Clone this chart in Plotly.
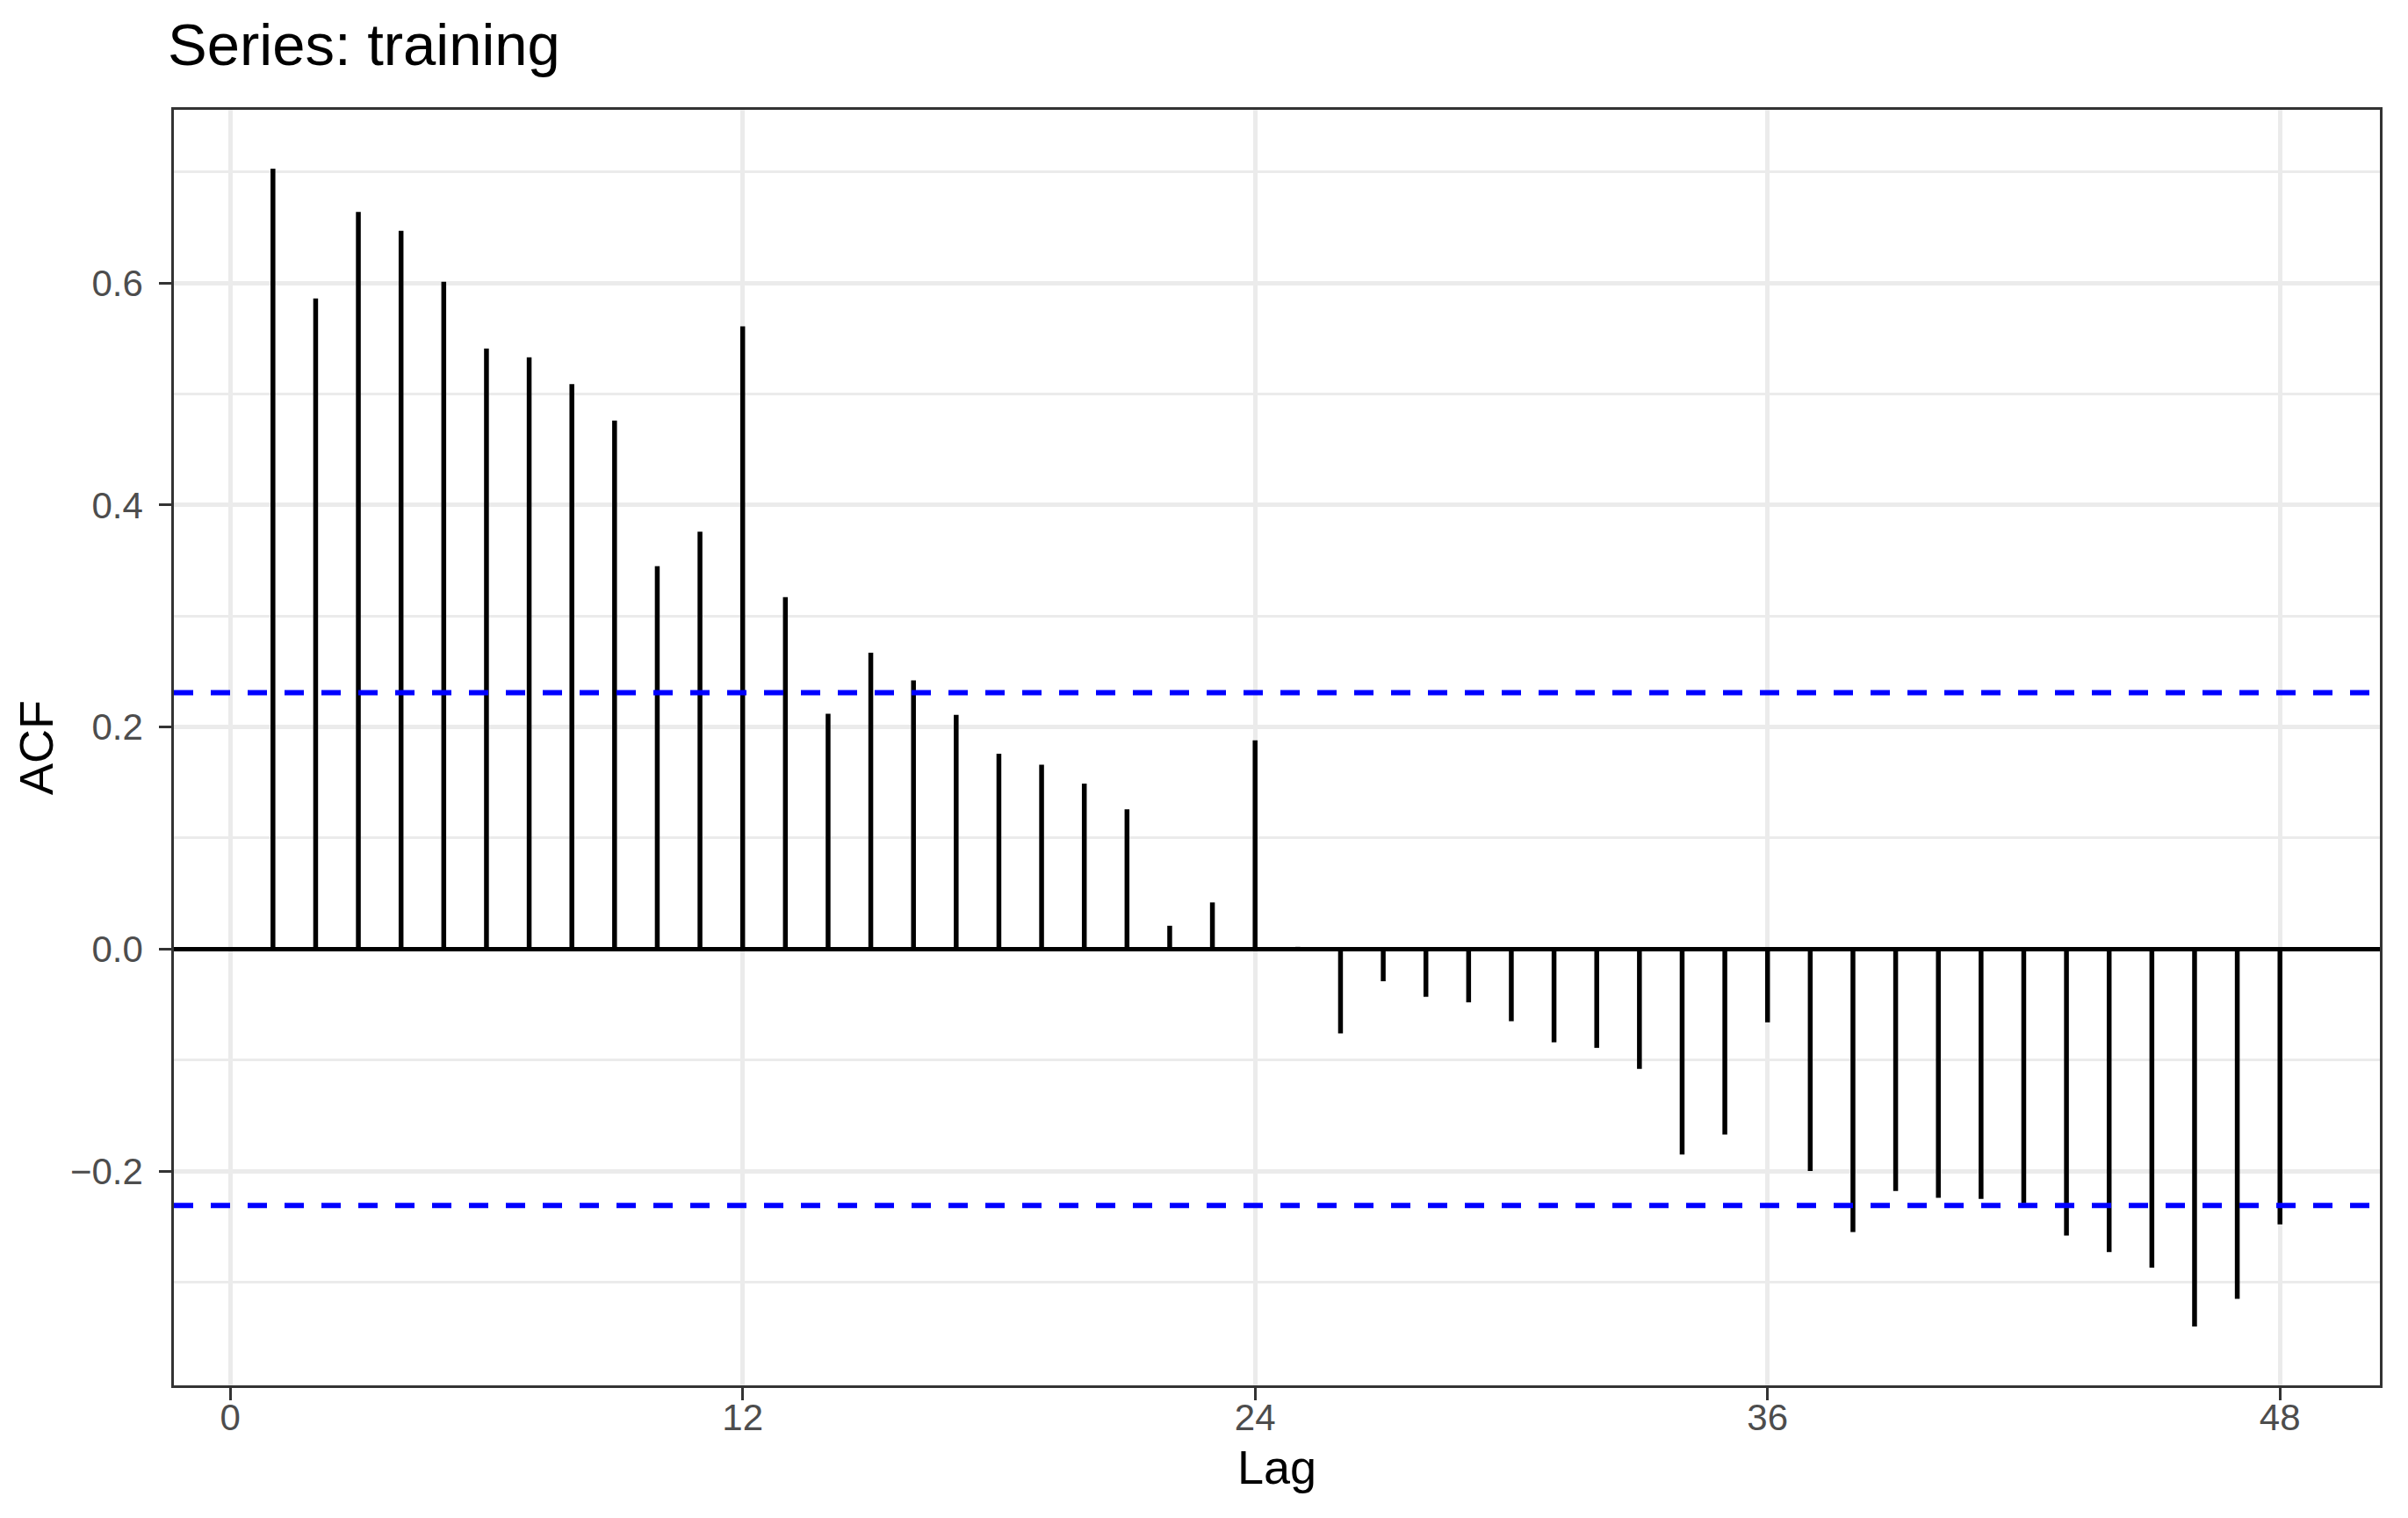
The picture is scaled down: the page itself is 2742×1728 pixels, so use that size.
import plotly.graph_objects as go

# ACF of the training series
lags = list(range(1, 49))
acf_values = [
    0.703, 0.586, 0.664, 0.647, 0.601, 0.541, 0.533, 0.509, 0.476, 0.345,
    0.376, 0.561, 0.317, 0.212, 0.267, 0.242, 0.211, 0.176, 0.166, 0.149,
    0.126, 0.021, 0.042, 0.188, 0.002, -0.076, -0.029, -0.043, -0.048, -0.065,
    -0.084, -0.089, -0.108, -0.185, -0.167, -0.066, -0.200, -0.255, -0.218, -0.224,
    -0.225, -0.229, -0.258, -0.273, -0.287, -0.340, -0.315, -0.248,
]
ci_limit = 0.231  # 1.96 / sqrt(72)
x_ticks = [0, 12, 24, 36, 48]
y_ticks = [-0.2, 0.0, 0.2, 0.4, 0.6]

W, H = 2742, 1728
left, right, top, bottom = 190, 40, 117, 159

# vertical spikes from 0 to each acf value
xs, ys = [], []
for lag, v in zip(lags, acf_values):
    xs += [lag, lag, None]
    ys += [0, v, None]

fig = go.Figure()
fig.add_trace(go.Scatter(
    x=xs, y=ys, mode="lines",
    line=dict(color="black", width=5.5),
    hoverinfo="skip", showlegend=False,
))

# confidence limits
for yv in (ci_limit, -ci_limit):
    fig.add_shape(type="line", xref="paper", x0=0, x1=1, y0=yv, y1=yv,
                  line=dict(color="#0000ff", width=6, dash="22px,20px"))

grid = "#ebebeb"
fig.update_layout(
    width=W, height=H,
    margin=dict(l=left, r=right, t=top, b=bottom, autoexpand=False),
    paper_bgcolor="white", plot_bgcolor="white",
    font=dict(family="Liberation Sans, Arial, sans-serif", color="black"),
    title=dict(text="Series: training", font=dict(size=67, color="black"),
               x=183 / W, xanchor="left", xref="container",
               y=1 - 43 / H, yanchor="middle", yref="container"),
    showlegend=False,
)

fig.update_xaxes(
    range=[-1.32, 50.34], tickvals=x_ticks, ticktext=[str(t) for t in x_ticks],
    showgrid=True, gridcolor=grid, gridwidth=5,
    showline=True, mirror=True, linecolor="#333333", linewidth=2.5,
    ticks="outside", ticklen=14, tickwidth=3, tickcolor="#333333",
    tickfont=dict(size=42, color="#4d4d4d"), ticklabelstandoff=-16,
    zeroline=False,
)
fig.update_yaxes(
    range=[-0.393, 0.756], tickvals=y_ticks, tickformat=".1f",
    showgrid=True, gridcolor=grid, gridwidth=5,
    minor=dict(tickvals=[-0.3, -0.1, 0.1, 0.3, 0.5, 0.7], showgrid=True,
               gridcolor=grid, gridwidth=2.5, ticks=""),
    showline=True, mirror=True, linecolor="#333333", linewidth=2.5,
    ticks="outside", ticklen=14, tickwidth=3, tickcolor="#333333",
    tickfont=dict(size=42, color="#4d4d4d"), ticklabelstandoff=10,
    zeroline=True, zerolinecolor="black", zerolinewidth=5,
)

# axis titles
plot_h = H - top - bottom
fig.add_annotation(text="Lag", xref="paper", yref="paper", x=0.5,
                   y=-(1662 - (H - bottom)) / plot_h, yanchor="middle",
                   showarrow=False, font=dict(size=54, color="black"))
fig.add_annotation(text="ACF", xref="paper", yref="paper",
                   x=-(left - 33) / (W - left - right), xanchor="center",
                   y=0.5, textangle=-90, showarrow=False,
                   font=dict(size=54, color="black"))

fig.write_html("out.html")
